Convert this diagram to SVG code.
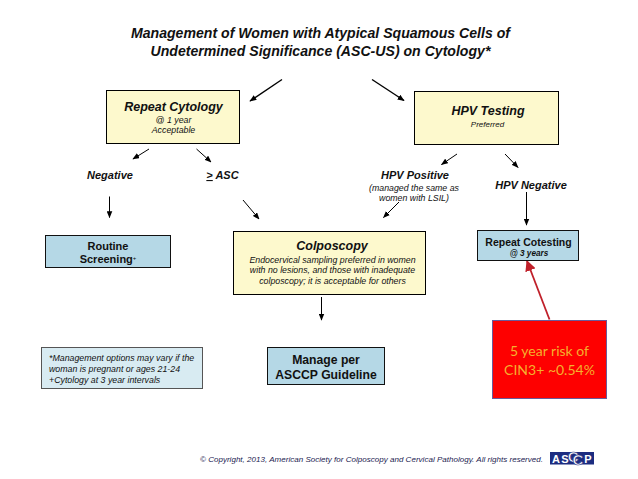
<svg xmlns="http://www.w3.org/2000/svg" width="638" height="479" viewBox="0 0 638 479">
<style>
text{font-family:"Liberation Sans",Arial,sans-serif;text-anchor:middle;fill:#111}
.t{font-size:14.1px;font-weight:bold;font-style:italic}
.h{font-size:12.500px;font-weight:bold;font-style:italic}
.l{font-size:11px;font-weight:bold;font-style:italic}
.s{font-size:8.800px;font-style:italic}
.b{font-size:12.200px;font-weight:bold}
.y{fill:#fdf9cd;stroke:#000;stroke-width:1}
.u{fill:#b5d8e6;stroke:#111;stroke-width:1}
.c{fill:none;stroke:#000;stroke-width:1}
.c2{fill:none;stroke:#000;stroke-width:1.400}
.k{font-size:11px;font-weight:bold;fill:#fff}
.k2{font-size:15px;font-weight:bold;fill:#fff;stroke:#1c2c80;stroke-width:.6px}
.r{font-family:Lato,"Open Sans",sans-serif;font-size:14px;fill:#f5b02e}
</style>
<defs>
<marker id="a" markerUnits="userSpaceOnUse" viewBox="0 0 10 8" refX="9" refY="4" markerWidth="7" markerHeight="6" orient="auto"><path d="M0 0L10 4L0 8z" fill="#000"/></marker>
<marker id="r" markerUnits="userSpaceOnUse" viewBox="0 0 10 10" refX="9" refY="5" markerWidth="11" markerHeight="11" orient="auto"><path d="M0 0L10 5L0 10z" fill="#c0202a"/></marker>
</defs>
<g id="title"><text class="t" x="320.500" y="38">Management of Women with Atypical Squamous Cells of</text><text class="t" x="320.500" y="55.500">Undetermined Significance (ASC-US) on Cytology*</text></g>
<g id="connectors">
<path class="c2" marker-end="url(#a)" d="M282 79.500L250 101"/>
<path class="c2" marker-end="url(#a)" d="M372 79.500L404 100.500"/>
<path class="c" marker-end="url(#a)" d="M149 149L133 159"/>
<path class="c" marker-end="url(#a)" d="M196.500 149L211 162"/>
<path class="c" marker-end="url(#a)" d="M109.500 196.500V217.500"/>
<path class="c" marker-end="url(#a)" d="M243 200L259 219"/>
<path class="c" marker-end="url(#a)" d="M457 154L441.500 164.500"/>
<path class="c" marker-end="url(#a)" d="M505 154L518 167.500"/>
<path class="c" marker-end="url(#a)" d="M399 202L383.500 217.500"/>
<path class="c" marker-end="url(#a)" d="M526.500 192V225"/>
<path class="c" marker-end="url(#a)" d="M321.500 297V320"/>
<path fill="none" stroke="#c0202a" stroke-width="1.800" marker-end="url(#r)" d="M549.500 319.500L527 261"/>
</g>
<g id="repeat-cytology"><rect class="y" x="106.500" y="90.500" width="133" height="53"/><text class="h" x="173.500" y="111">Repeat Cytology</text><text class="s" x="173.500" y="123">@  1 year</text><text class="s" x="173.500" y="133">Acceptable</text></g>
<g id="hpv-testing"><rect class="y" x="414.500" y="91.500" width="144" height="53"/><text class="h" x="488" y="115">HPV Testing</text><text class="s" x="487.500" y="127" style="font-size:8px">Preferred</text></g>
<g id="negative"><text class="l" x="110" y="179">Negative</text></g>
<g id="asc"><text class="l" x="222.500" y="179"><tspan text-decoration="underline">&gt;</tspan> ASC</text></g>
<g id="hpv-positive"><text class="l" x="415" y="179">HPV Positive</text><text class="s" x="414" y="190.500">(managed the same as</text><text class="s" x="414" y="200.500">women with LSIL)</text></g>
<g id="hpv-negative"><text class="l" x="531" y="189">HPV Negative</text></g>
<g id="routine-screening"><rect class="u" x="45.500" y="235.500" width="125" height="32"/><text class="b" x="108" y="250" style="font-size:11px">Routine</text><text class="b" x="108" y="263" style="font-size:11px">Screening<tspan font-size="6" dy="-3" font-weight="normal">+</tspan></text></g>
<g id="colposcopy"><rect class="y" x="233.500" y="231.500" width="192" height="63"/><text class="h" x="332" y="250">Colposcopy</text><text class="s" x="332.500" y="262.500">Endocervical sampling preferred in women</text><text class="s" x="332.500" y="272.500">with no lesions, and those with inadequate</text><text class="s" x="332.500" y="283.500">colposcopy; it is acceptable for others</text></g>
<g id="repeat-cotesting"><rect class="u" x="477.500" y="230.500" width="101" height="30"/><text class="b" x="528.500" y="245.500" style="font-size:10.500px">Repeat Cotesting</text><text class="s" x="529" y="256" style="font-weight:bold;font-size:8.200px">@ 3 years</text></g>
<g id="footnote"><rect x="41.500" y="347.500" width="161" height="41" fill="#d8ebf2" stroke="#555" stroke-width="1"/><text class="s" x="49" y="361" style="text-anchor:start">*Management options may vary if the</text><text class="s" x="49" y="372" style="text-anchor:start">woman is pregnant or ages 21-24</text><text class="s" x="49" y="383" style="text-anchor:start">+Cytology at 3 year intervals</text></g>
<g id="manage-per"><rect class="u" x="267.500" y="347.500" width="117" height="37"/><text class="b" x="326" y="364">Manage per</text><text class="b" x="326" y="378.500">ASCCP Guideline</text></g>
<g id="risk"><rect x="492.500" y="320.500" width="114" height="78" fill="#fe0000" stroke="#6a5a9a" stroke-width="1"/><text class="r" x="549.500" y="356">5 year risk of</text><text class="r" x="549.500" y="375">CIN3+ ~0.54%</text></g>
<g id="copyright"><text x="200" y="462" textLength="343" style="text-anchor:start;font-size:8px;font-style:italic;fill:#1a1a50">© Copyright, 2013, American Society for Colposcopy and Cervical Pathology.  All rights reserved.</text></g>
<g id="logo"><rect x="550" y="452" width="44" height="12.500" fill="#1c2c80"/><text class="k" x="556" y="462.500">A</text><text class="k" x="565" y="462.500">S</text><text class="k2" x="575.500" y="462">C<tspan dx="-6" dy="3">C</tspan></text><text class="k" x="588" y="462.500">P</text></g>
</svg>
